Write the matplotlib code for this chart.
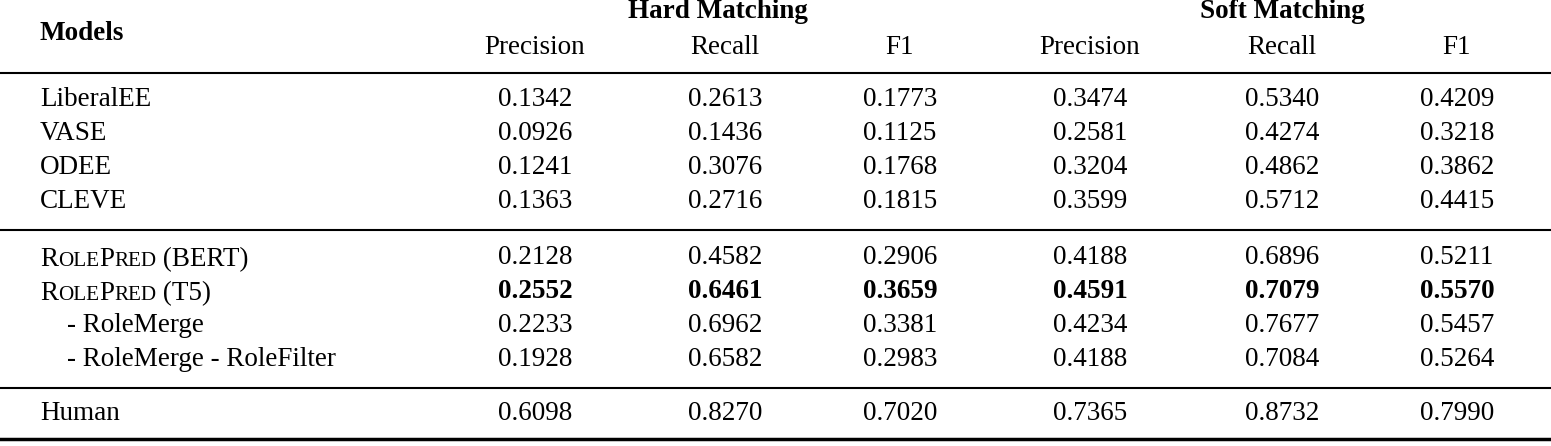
import matplotlib
matplotlib.use("Agg")
import matplotlib.pyplot as plt

models = ["LiberalEE", "VASE", "ODEE", "CLEVE", "ROLEPRED (BERT)", "ROLEPRED (T5)",
          "- RoleMerge", "- RoleMerge - RoleFilter", "Human"]
indent = [0, 0, 0, 0, 0, 0, 1, 1, 0]
hard_p = ["0.1342", "0.0926", "0.1241", "0.1363", "0.2128", "0.2552", "0.2233", "0.1928", "0.6098"]
hard_r = ["0.2613", "0.1436", "0.3076", "0.2716", "0.4582", "0.6461", "0.6962", "0.6582", "0.8270"]
hard_f = ["0.1773", "0.1125", "0.1768", "0.1815", "0.2906", "0.3659", "0.3381", "0.2983", "0.7020"]
soft_p = ["0.3474", "0.2581", "0.3204", "0.3599", "0.4188", "0.4591", "0.4234", "0.4188", "0.7365"]
soft_r = ["0.5340", "0.4274", "0.4862", "0.5712", "0.6896", "0.7079", "0.7677", "0.7084", "0.8732"]
soft_f = ["0.4209", "0.3218", "0.3862", "0.4415", "0.5211", "0.5570", "0.5457", "0.5264", "0.7990"]
subheaders = ["Precision", "Recall", "F1", "Precision", "Recall", "F1"]
bold_row = 5

plt.rcParams['font.family'] = ['Liberation Serif', 'DejaVu Serif']
fig = plt.figure(figsize=(15.51, 4.46), dpi=100)
ax = fig.add_axes([0, 0, 1, 1])
ax.set_xlim(0, 1551); ax.set_ylim(446, 0); ax.axis('off')
fs = 19.5
cols = [535, 725, 900, 1090, 1282, 1457]
rows = [100, 134, 168, 202, 257, 291, 325, 359, 413]

ax.text(40, 34, "Models", fontsize=fs, fontweight='bold', va='center')
ax.text(718, 12, "Hard Matching", fontsize=fs, fontweight='bold', va='center', ha='center')
ax.text(1282, 12, "Soft Matching", fontsize=fs, fontweight='bold', va='center', ha='center')
for x, s in zip(cols, subheaders):
    ax.text(x, 47, s, fontsize=fs, va='center', ha='center')

for yy, lw in [(73, 1.5), (230, 1.5), (388, 1.5), (439, 2.5)]:
    ax.plot([0, 1551], [yy, yy], color='black', lw=lw)

fig.canvas.draw()
r = fig.canvas.get_renderer()

def smallcaps(x, y, s):
    parts = [("R", fs), ("OLE", fs*0.78), ("P", fs), ("RED", fs*0.78), (s[len("ROLEPRED"):], fs)]
    for t, f in parts:
        tx = ax.text(x, y, t, fontsize=f, va='baseline')
        bb = tx.get_window_extent(r)
        x += bb.width

for i, m in enumerate(models):
    y = rows[i]
    x0 = 67 if indent[i] else 40
    if m.startswith("ROLEPRED"):
        smallcaps(x0, y + 9, m)
    else:
        ax.text(x0, y, m, fontsize=fs, va='center')
    vals = [hard_p[i], hard_r[i], hard_f[i], soft_p[i], soft_r[i], soft_f[i]]
    for x, v in zip(cols, vals):
        ax.text(x, y, v, fontsize=fs, va='center', ha='center',
                fontweight='bold' if i == bold_row else 'normal')

fig.savefig("out.png", dpi=100)
